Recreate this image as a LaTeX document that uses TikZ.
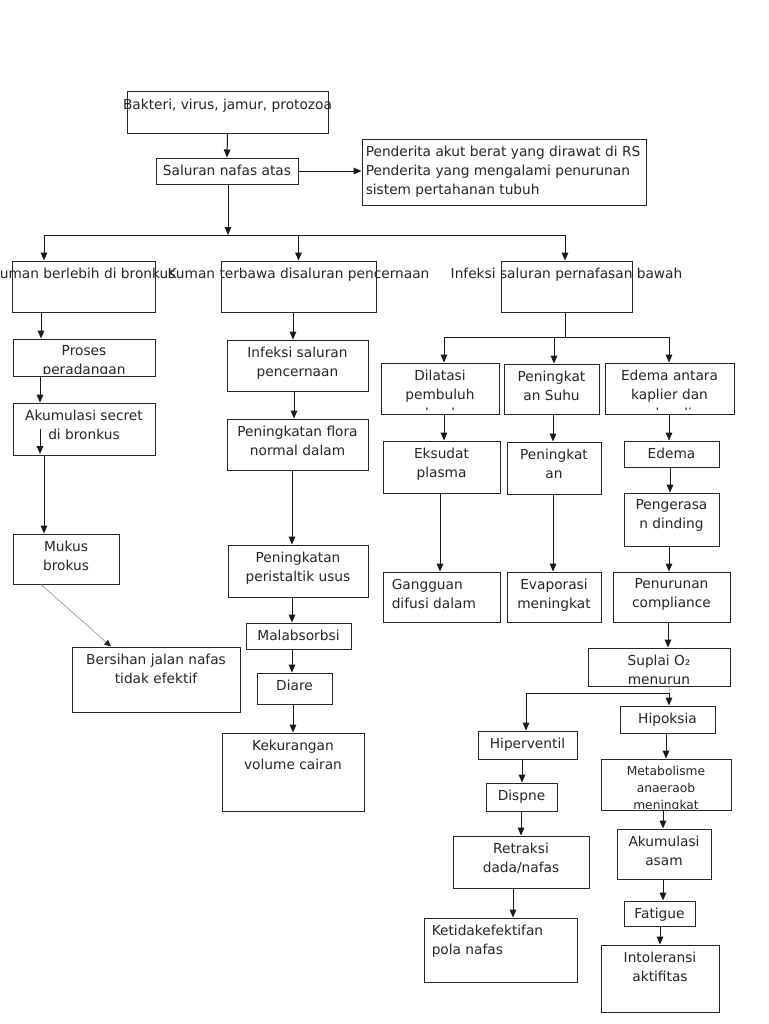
\documentclass[tikz,border=0pt]{standalone}
\usepackage{fontspec}
\setmainfont{DejaVu Sans}
\usetikzlibrary{arrows.meta,fit}
\newcommand{\mybox}[5]{\node[box, fit={(#2,#3) (#4,#5)}] (#1) {};}
\newcommand{\ctxt}[3][]{\node[txt, anchor=north, align=center, #1] at ([yshift=-5.3pt]#2.north) {#3};}
\newcommand{\stxt}[2]{\node[txt, anchor=north, align=center] at ([yshift=-3.3pt]#1.north) {#2};}
\newcommand{\ltxt}[4][]{\node[txt, anchor=north west, align=left, #1] at ([xshift=#3, yshift=-5.3pt]#2.north west) {#4};}
\newcommand{\ctxtclip}[4][]{\begin{scope}\clip ([yshift=#2]#3.south west) rectangle (#3.north east); \ctxt[#1]{#3}{#4}\end{scope}}
\begin{document}
\begin{tikzpicture}[x=0.75pt,y=-0.75pt,
  box/.style={draw=black!85, line width=0.75pt, inner sep=0pt},
  txt/.style={inner sep=0pt, text=black!85, font=\fontsize{10.3pt}{14.25pt}\selectfont, execute at begin node=\strut},
  arr/.style={draw=black!90, line width=0.75pt, -{Triangle[length=6pt,width=5pt]}},
  ln/.style={draw=black!90, line width=0.75pt}]
\fill[white] (0,0) rectangle (768,1024);
\useasboundingbox (0,0) rectangle (768,1024);
% boxes
\mybox{b1}{127}{92}{328}{133}
\mybox{b2}{156}{158}{298}{184}
\mybox{b3}{362}{139}{646}{205}
\mybox{k1}{12}{261}{155}{312}
\mybox{k2}{221}{261}{376}{312}
\mybox{k3}{501}{261}{632}{312}
\mybox{p1}{13}{339}{155}{376}
\mybox{p2}{13}{403}{155}{455}
\mybox{p3}{13}{534}{119}{584}
\mybox{p4}{72}{647}{240}{712}
\mybox{q1}{227}{340}{368}{391}
\mybox{q2}{227}{419}{368}{470}
\mybox{q3}{228}{545}{368}{597}
\mybox{q4}{246}{623}{351}{649}
\mybox{q5}{257}{673}{332}{704}
\mybox{q6}{222}{733}{364}{811}
\mybox{r1}{381}{363}{499}{414}
\mybox{r2}{504}{364}{599}{414}
\mybox{r3}{605}{363}{734}{414}
\mybox{r4}{383}{441}{500}{493}
\mybox{r5}{507}{442}{601}{494}
\mybox{r6}{624}{441}{719}{467}
\mybox{r7}{624}{493}{719}{546}
\mybox{r8}{383}{572}{500}{622}
\mybox{r9}{507}{572}{601}{622}
\mybox{r10}{613}{572}{730}{622}
\mybox{r11}{588}{648}{730}{686}
\mybox{s1}{620}{706}{715}{733}
\mybox{s2}{478}{731}{577}{759}
\mybox{s3}{486}{783}{557}{811}
\mybox{s4}{453}{836}{589}{888}
\mybox{s5}{424}{918}{577}{982}
\mybox{t1}{601}{759}{731}{810}
\mybox{t2}{617}{829}{711}{879}
\mybox{t3}{624}{901}{695}{926}
\mybox{t4}{601}{945}{719}{1012}
% texts
\stxt{b1}{Bakteri, virus, jamur, protozoa}
\stxt{b2}{Saluran nafas atas}
\ltxt{b3}{3pt}{Penderita akut berat yang dirawat di RS\\Penderita yang mengalami penurunan\\sistem pertahanan tubuh}
\stxt{k1}{Kuman berlebih di bronkus}
\stxt{k2}{Kuman terbawa disaluran pencernaan}
\stxt{k3}{Infeksi saluran pernafasan bawah}
\ctxtclip{2.25pt}{p1}{Proses\\peradangan}
\ctxt{p2}{Akumulasi secret\\di bronkus}
\ctxt{p3}{Mukus\\brokus}
\ctxt{p4}{Bersihan jalan nafas\\tidak efektif}
\ctxt{q1}{Infeksi saluran\\pencernaan}
\ctxt{q2}{Peningkatan flora\\normal dalam}
\ctxt{q3}{Peningkatan\\peristaltik usus}
\stxt{q4}{Malabsorbsi}
\stxt{q5}{Diare}
\ctxt{q6}{Kekurangan\\volume cairan}
\ctxtclip{4pt}{r1}{Dilatasi\\pembuluh\\darah}
\ctxt{r2}{Peningkat\\an Suhu}
\ctxtclip{4pt}{r3}{Edema antara\\kaplier dan\\alveoli}
\ctxt{r4}{Eksudat\\plasma}
\ctxt{r5}{Peningkat\\an}
\stxt{r6}{Edema}
\ctxt{r7}{Pengerasa\\n dinding}
\ltxt{r8}{6.75pt}{Gangguan\\difusi dalam}
\ctxt{r9}{Evaporasi\\meningkat}
\ctxt{r10}{Penurunan\\compliance}
\ctxtclip{2.25pt}{r11}{Suplai O₂\\menurun}
\stxt{s1}{Hipoksia}
\stxt{s2}{Hiperventil}
\stxt{s3}{Dispne}
\ctxt{s4}{Retraksi\\dada/nafas}
\ltxt{s5}{6pt}{Ketidakefektifan\\pola nafas}
\ctxtclip[font=\fontsize{9.2pt}{12.75pt}\selectfont]{1.5pt}{t1}{Metabolisme\\anaeraob\\meningkat}
\ctxt{t2}{Akumulasi\\asam}
\stxt{t3}{Fatigue}
\ctxt{t4}{Intoleransi\\aktifitas}
% connectors top
\draw[arr] (b1.south) -- (b2.north);
\draw[arr] (b2.east) -- (b2.east -| b3.west);
\coordinate (j1) at (228,235);
\coordinate (jl) at (44,235);
\coordinate (jr) at (565,235);
\draw[arr] (b2.south -| j1) -- (j1);
\draw[ln] (jl) -- (jr);
\draw[arr] (jl) -- (k1.north -| jl);
\draw[arr] (k2.north |- j1) -- (k2.north);
\draw[arr] (jr) -- (k3.north -| jr);
% left column
\draw[arr] (k1.south -| 41,0) -- (p1.north -| 41,0);
\draw[arr] (p1.south -| 40,0) -- (p2.north -| 40,0);
\coordinate (ia) at (40,429);
\coordinate (ib) at (40,454);
\draw[arr] (ia) -- (ib);
\draw[arr] (p2.south -| 44,0) -- (p3.north -| 44,0);
\draw[draw=gray!80, line width=0.5pt, -{Triangle[length=5pt,width=4.5pt,color=black!85]}] (p3.south -| 41,0) -- (p4.north -| 111,0);
% middle column
\draw[arr] (k2.south -| 293,0) -- (q1.north -| 293,0);
\draw[arr] (q1.south -| 294,0) -- (q2.north -| 294,0);
\draw[arr] (q2.south -| 292,0) -- (q3.north -| 292,0);
\draw[arr] (q3.south -| 292,0) -- (q4.north -| 292,0);
\draw[arr] (q4.south -| 292,0) -- (q5.north -| 292,0);
\draw[arr] (q5.south -| 293,0) -- (q6.north -| 293,0);
% right column
\coordinate (j2) at (565,337);
\coordinate (j2l) at (444,337);
\coordinate (j2r) at (669,337);
\draw[ln] (k3.south -| j2) -- (j2);
\draw[ln] (j2l) -- (j2r);
\draw[arr] (j2l) -- (r1.north -| j2l);
\draw[arr] (j2 -| 554,0) -- (r2.north -| 554,0);
\draw[arr] (j2r) -- (r3.north -| j2r);
\draw[arr] (r1.south -| 444,0) -- (r4.north -| 444,0);
\draw[arr] (r4.south -| 440,0) -- (r8.north -| 440,0);
\draw[arr] (r2.south -| 553,0) -- (r5.north -| 553,0);
\draw[arr] (r5.south -| 553,0) -- (r9.north -| 553,0);
\draw[arr] (r3.south -| 669,0) -- (r6.north -| 669,0);
\draw[arr] (r6.south -| 670,0) -- (r7.north -| 670,0);
\draw[arr] (r7.south -| 669,0) -- (r10.north -| 669,0);
\draw[arr] (r10.south -| 668,0) -- (r11.north -| 668,0);
\coordinate (j3) at (669,693);
\coordinate (j3l) at (526,693);
\draw[draw=gray!70, line width=0.5pt, dash pattern=on 1pt off 1pt] (r11.south -| j3) -- (j3);
\draw[ln] (j3l) -- (j3);
\draw[arr] (j3) -- (s1.north -| j3);
\draw[arr] (j3l) -- (s2.north -| j3l);
\draw[arr] (s1.south -| 666,0) -- (t1.north -| 666,0);
\draw[arr] (s2.south -| 522,0) -- (s3.north -| 522,0);
\draw[arr] (s3.south -| 521,0) -- (s4.north -| 521,0);
\draw[arr] (s4.south -| 513,0) -- (s5.north -| 513,0);
\draw[arr] (t1.south -| 663,0) -- (t2.north -| 663,0);
\draw[arr] (t2.south -| 663,0) -- (t3.north -| 663,0);
\draw[arr] (t3.south -| 660,0) -- (t4.north -| 660,0);
\end{tikzpicture}
\end{document}
